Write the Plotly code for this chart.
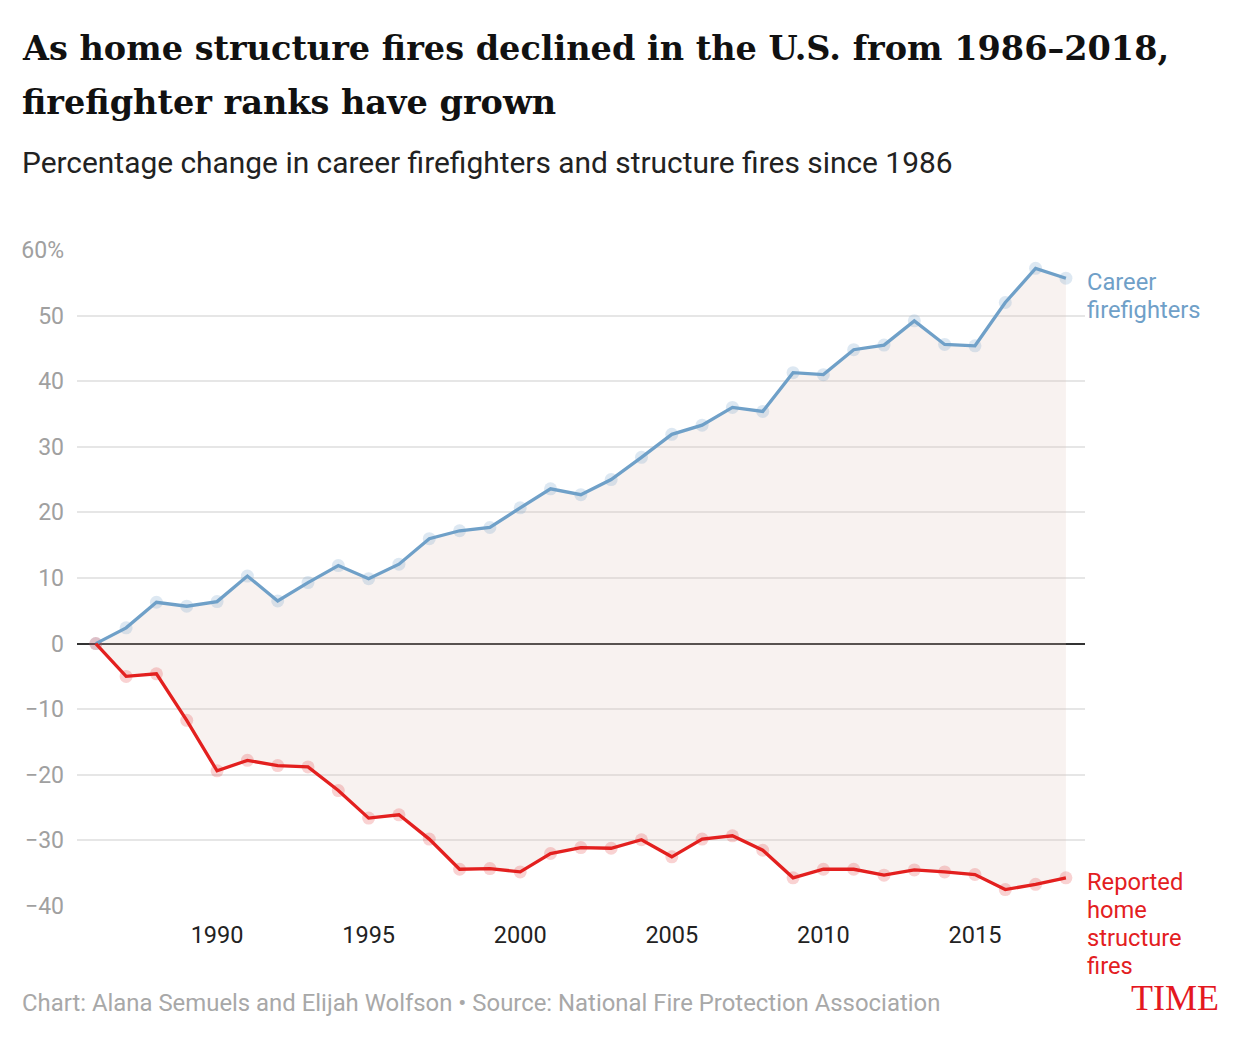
import plotly.graph_objects as go

years = list(range(1986, 2019))
firefighters = [0, 2.4, 6.3, 5.7, 6.4, 10.3, 6.5, 9.3, 11.9, 9.9, 12.1, 16.0, 17.2, 17.7, 20.7,
                23.6, 22.7, 25.0, 28.4, 31.9, 33.3, 36.0, 35.4, 41.3, 41.0, 44.8, 45.5, 49.2,
                45.6, 45.4, 52.0, 57.2, 55.7]
fires = [0, -5.0, -4.6, -11.7, -19.4, -17.8, -18.6, -18.8, -22.4, -26.6, -26.1, -29.8, -34.4,
         -34.3, -34.8, -32.0, -31.1, -31.2, -29.9, -32.5, -29.8, -29.3, -31.5, -35.7, -34.4,
         -34.4, -35.3, -34.5, -34.8, -35.2, -37.5, -36.7, -35.7]
y_tickvals = [-40, -30, -20, -10, 0, 10, 20, 30, 40, 50, 60]
y_ticktext = ["\u221240", "\u221230", "\u221220", "\u221210", "0", "10", "20", "30", "40", "50", "60%"]
x_tickvals = [1990, 1995, 2000, 2005, 2010, 2015]
blue_label_lines = ["Career", "firefighters"]
red_label_lines = ["Reported", "home", "structure", "fires"]

BLUE = "#6fa0c8"
RED = "#e3201f"

OFF = 8  # page body margin
W, H = 1240 - OFF, 1040 - OFF
L, R, T, B = 77 - OFF, 1085 - OFF, 250 - OFF, 906 - OFF


def px(x):
    return (x - OFF - L) / (R - L)


def py(y):
    return (B - (y - OFF)) / (B - T)


fig = go.Figure()
# fill between the two series
fig.add_trace(go.Scatter(x=years, y=fires, mode="lines", line=dict(width=0, color=RED),
                         hoverinfo="skip", showlegend=False))
fig.add_trace(go.Scatter(x=years, y=firefighters, mode="lines", line=dict(width=0, color=BLUE),
                         fill="tonexty", fillcolor="rgba(222,196,186,0.22)",
                         hoverinfo="skip", showlegend=False))
# halo markers
fig.add_trace(go.Scatter(x=years, y=firefighters, mode="markers",
                         marker=dict(size=13, color="rgba(111,160,200,0.24)", line=dict(width=0)),
                         showlegend=False, cliponaxis=False))
fig.add_trace(go.Scatter(x=years, y=fires, mode="markers",
                         marker=dict(size=13, color="rgba(227,32,31,0.2)", line=dict(width=0)),
                         showlegend=False, cliponaxis=False))
# lines
fig.add_trace(go.Scatter(x=years, y=firefighters, mode="lines", line=dict(width=3.3, color=BLUE),
                         name="Career firefighters", showlegend=False, cliponaxis=False))
fig.add_trace(go.Scatter(x=years, y=fires, mode="lines", line=dict(width=3.3, color=RED),
                         name="Reported home structure fires", showlegend=False, cliponaxis=False))

annotations = []
TITLE_FONT = "DejaVu Serif"
annotations.append(dict(text="<b>As home structure fires declined in the U.S. from 1986\u20132018,</b>",
                        x=px(20), y=py(48), xanchor="left", yanchor="middle",
                        font=dict(family=TITLE_FONT, size=33.5, color="#111")))
annotations.append(dict(text="<b>firefighter ranks have grown</b>",
                        x=px(20), y=py(102), xanchor="left", yanchor="middle",
                        font=dict(family=TITLE_FONT, size=33.5, color="#111")))
annotations.append(dict(text="Percentage change in career firefighters and structure fires since 1986",
                        x=px(20), y=py(162), xanchor="left", yanchor="middle",
                        font=dict(family="Roboto", size=29.9, color="#222")))
annotations.append(dict(text="Chart: Alana Semuels and Elijah Wolfson \u2022 Source: National Fire Protection Association",
                        x=px(20), y=py(1003), xanchor="left", yanchor="middle",
                        font=dict(family="Roboto", size=23.9, color="#a8a8a8")))
annotations.append(dict(text="TIME", x=px(1221), y=py(998), xanchor="right", yanchor="middle",
                        font=dict(family="Liberation Serif", size=36, color="#e4181f")))
for i, t in enumerate(blue_label_lines):
    annotations.append(dict(text=t, x=px(1085), y=py(282 + 28 * i), xanchor="left",
                            yanchor="middle", font=dict(family="Roboto", size=23.7, color=BLUE)))
for i, t in enumerate(red_label_lines):
    annotations.append(dict(text=t, x=px(1085), y=py(882 + 28 * i), xanchor="left",
                            yanchor="middle", font=dict(family="Roboto", size=23.7, color=RED)))
for a in annotations:
    a.update(xref="paper", yref="paper", showarrow=False)

fig.update_layout(
    width=W, height=H,
    margin=dict(l=L, r=W - R, t=T, b=H - B),
    paper_bgcolor="white", plot_bgcolor="white",
    annotations=annotations,
    showlegend=False,
    xaxis=dict(range=[1985.38, 2018.63], tickvals=x_tickvals, showgrid=False, zeroline=False,
               showline=False, ticks="", ticklabelstandoff=12,
               tickfont=dict(family="Roboto", size=23.5, color="#222"), fixedrange=True),
    yaxis=dict(range=[-40, 60], tickvals=y_tickvals, ticktext=y_ticktext, showgrid=True,
               gridcolor="#e6e6e6", gridwidth=1.5, zeroline=True, zerolinecolor="#333",
               zerolinewidth=1.5, showline=False, ticks="", ticklabelstandoff=12,
               tickfont=dict(family="Roboto", size=23, color="#a0a0a0"), fixedrange=True),
)

fig.write_html("out.html")
